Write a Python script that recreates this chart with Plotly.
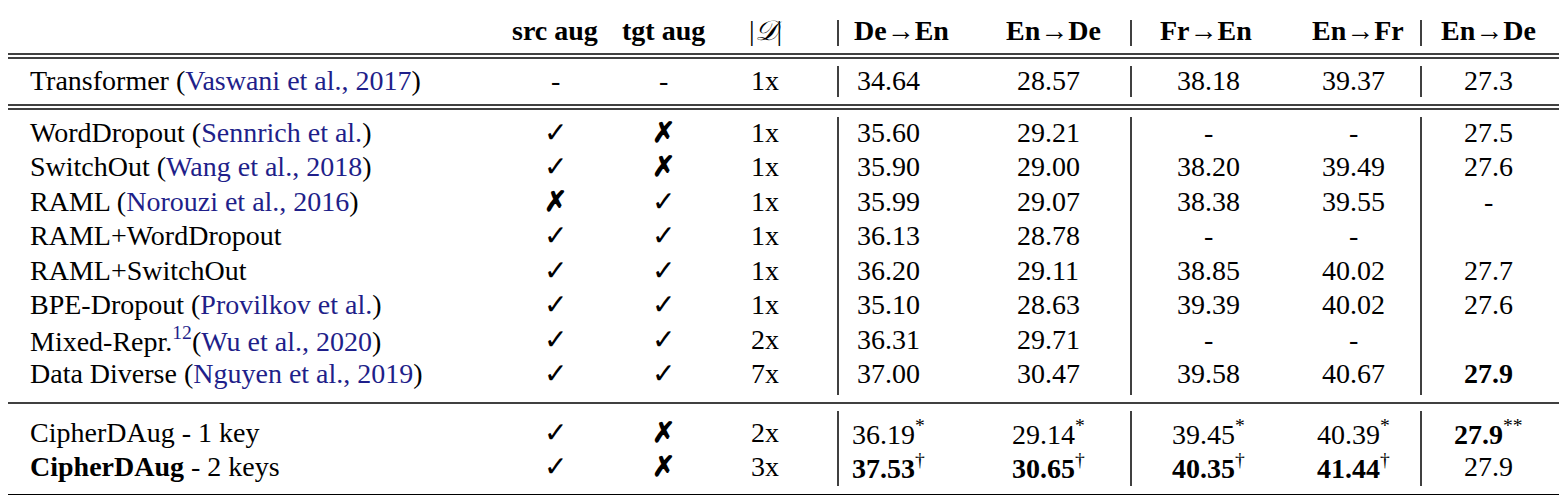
import plotly.graph_objects as go

W, H = 1567, 495
BLUE = "#1f1f8a"
FONT = "'Liberation Serif', 'Times New Roman', Times, serif"

def cite(s):
    return f'<span style="color:{BLUE}">{s}</span>'

headers = ["<b>src aug</b>", "<b>tgt aug</b>", "|<i>𝒟</i>|", "<b>De→En</b>", "<b>En→De</b>", "<b>Fr→En</b>", "<b>En→Fr</b>", "<b>En→De</b>"]
methods = [
    "Transformer (" + cite("Vaswani et al., 2017") + ")",
    "WordDropout (" + cite("Sennrich et al.") + ")",
    "SwitchOut (" + cite("Wang et al., 2018") + ")",
    "RAML (" + cite("Norouzi et al., 2016") + ")",
    "RAML+WordDropout",
    "RAML+SwitchOut",
    "BPE-Dropout (" + cite("Provilkov et al.") + ")",
    "Mixed-Repr.<sup>" + cite("12") + "</sup>(" + cite("Wu et al., 2020") + ")",
    "Data Diverse (" + cite("Nguyen et al., 2019") + ")",
    "CipherDAug - 1 key",
    "<b>CipherDAug</b> - 2 keys",
]
src_aug = ["-", "✓", "✓", "<b>✗</b>", "✓", "✓", "✓", "✓", "✓", "✓", "✓"]
tgt_aug = ["-", "<b>✗</b>", "<b>✗</b>", "✓", "✓", "✓", "✓", "✓", "✓", "<b>✗</b>", "<b>✗</b>"]
data_size = ["1x", "1x", "1x", "1x", "1x", "1x", "1x", "2x", "7x", "2x", "3x"]
de_en = ["34.64", "35.60", "35.90", "35.99", "36.13", "36.20", "35.10", "36.31", "37.00", "36.19<sup>*</sup>", "<b>37.53</b><sup>†</sup>"]
en_de = ["28.57", "29.21", "29.00", "29.07", "28.78", "29.11", "28.63", "29.71", "30.47", "29.14<sup>*</sup>", "<b>30.65</b><sup>†</sup>"]
fr_en = ["38.18", "-", "38.20", "38.38", "-", "38.85", "39.39", "-", "39.58", "39.45<sup>*</sup>", "<b>40.35</b><sup>†</sup>"]
en_fr = ["39.37", "-", "39.49", "39.55", "-", "40.02", "40.02", "-", "40.67", "40.39<sup>*</sup>", "<b>41.44</b><sup>†</sup>"]
en_de2 = ["27.3", "27.5", "27.6", "-", "", "27.7", "27.6", "", "<b>27.9</b>", "<b>27.9</b><sup>**</sup>", "27.9"]

row_y = [72, 124, 158.5, 193, 227.5, 262, 296.5, 331, 365.5, 424, 458]
col_x = [547, 655, 757, 880, 1040, 1200, 1345, 1480]
head_x = [547, 655, 757, 893, 1045, 1198, 1350, 1480]
cols = [src_aug, tgt_aug, data_size, de_en, en_de, fr_en, en_fr, en_de2]

fig = go.Figure()
fs = 28
for hx, h in zip(head_x, headers):
    fig.add_annotation(x=hx, y=22, text=h, showarrow=False,
                       xanchor="center", yanchor="middle", font=dict(size=fs, family=FONT, color="black"))
for i, y in enumerate(row_y):
    fig.add_annotation(x=20, y=y, text=methods[i], showarrow=False, xanchor="left", yanchor="middle",
                       font=dict(size=fs, family=FONT, color="black"))
    for cx, col in zip(col_x, cols):
        if col[i]:
            fig.add_annotation(x=cx, y=y, text=col[i], showarrow=False, xanchor="center", yanchor="middle",
                               font=dict(size=fs, family=FONT, color="black"))

def hline(y, w=1.5):
    fig.add_shape(type="line", x0=0, x1=W, y0=y, y1=y, line=dict(color="black", width=w))

hline(46); hline(50)
hline(97); hline(101)
hline(395)
hline(488, 4)
groups = [(4, 46), (50, 97), (101, 395), (395, 486)]
for vx in [830, 1123, 1413]:
    for y0, y1 in groups:
        fig.add_shape(type="line", x0=vx, x1=vx, y0=y0 + 8, y1=y1 - 8, line=dict(color="black", width=1.5))

fig.update_layout(width=W, height=H, margin=dict(l=0, r=0, t=0, b=0),
                  plot_bgcolor="white", paper_bgcolor="white", showlegend=False,
                  font=dict(family=FONT),
                  xaxis=dict(range=[0, W], visible=False, fixedrange=True),
                  yaxis=dict(range=[H, 0], visible=False, fixedrange=True))
fig.write_html("out.html")
